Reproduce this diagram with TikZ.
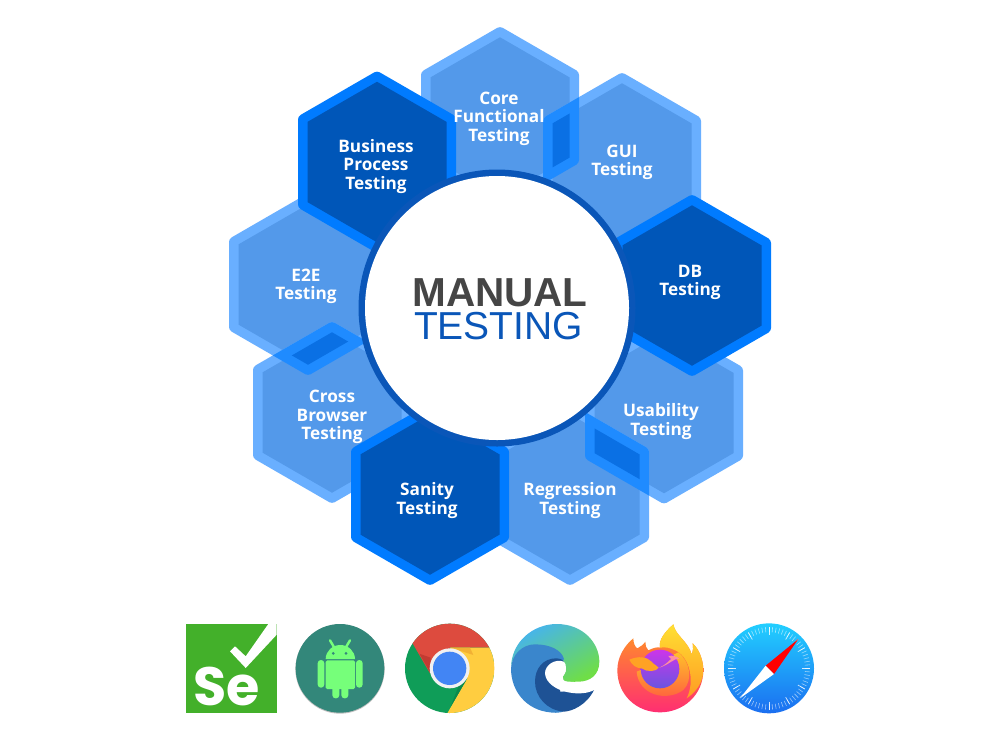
\documentclass[tikz,border=0pt]{standalone}
\usepackage{fontspec}
\setmainfont{Open Sans}
\newfontfamily\logofont{Liberation Sans}
\newfontfamily\sefont{Poppins}
\newcommand\hexpath[3]{({#1},{#2-#3*1.1547}) -- ({#1+#3},{#2-#3*.57735}) -- ({#1+#3},{#2+#3*.57735}) -- ({#1},{#2+#3*1.1547}) -- ({#1-#3},{#2+#3*.57735}) -- ({#1-#3},{#2-#3*.57735}) -- cycle}
\definecolor{lightrim}{HTML}{69AFFF}
\definecolor{lightfill}{HTML}{5399EA}
\definecolor{darkrim}{HTML}{007BFF}
\definecolor{darkfill}{HTML}{0056B8}
\definecolor{ovrim}{HTML}{1F8BFF}
\definecolor{ovfill}{HTML}{0A70E4}
\definecolor{ring}{HTML}{0A56B8}
\definecolor{segreen}{HTML}{43B02A}
\definecolor{teal}{HTML}{33877A}
\definecolor{droid}{HTML}{76FF7A}
\definecolor{crgreen}{HTML}{0F9D58}
\definecolor{crred}{HTML}{DD4B3E}
\definecolor{cryellow}{HTML}{FFCD40}
\definecolor{crredd}{HTML}{C23B32}
\definecolor{cryellowd}{HTML}{F2B134}
\definecolor{crgreend}{HTML}{0C8A4C}
\definecolor{crwhite}{HTML}{F1F1F1}
\definecolor{crblue}{HTML}{4285F4}
\definecolor{edsky}{HTML}{45B3F0}
\definecolor{edlime}{HTML}{6FDE47}
\definecolor{edmid}{HTML}{3A86CC}
\definecolor{ednavy}{HTML}{1E5295}
\definecolor{ffa}{HTML}{FF9A20}
\definecolor{ffb}{HTML}{FF6A2A}
\definecolor{ffc}{HTML}{FF2E72}
\definecolor{ffd}{HTML}{FFE033}
\definecolor{ffe}{HTML}{FF9A22}
\definecolor{fff}{HTML}{CC35EA}
\definecolor{ffg}{HTML}{6A55E0}
\definecolor{ffh}{HTML}{FFA224}
\definecolor{ffi}{HTML}{FFC02A}
\definecolor{ffj}{HTML}{FF5A40}
\definecolor{ffk}{HTML}{FF8FA0}
\definecolor{safa}{HTML}{22CFFF}
\definecolor{safb}{HTML}{1B6EF0}
\definecolor{safred}{HTML}{FF0000}
\newcommand\lighthex[2]{\fill[lightrim,rounded corners=3] \hexpath{#1}{#2}{79}; \fill[lightfill] \hexpath{#1}{#2}{69.5};}
\newcommand\darkhex[2]{\fill[darkrim,rounded corners=3] \hexpath{#1}{#2}{79}; \fill[darkfill] \hexpath{#1}{#2}{69.5};}
\newcommand\overlap[4]{%
 \begin{scope}\clip[rounded corners=3] \hexpath{#1}{#2}{79}; \clip[rounded corners=3] \hexpath{#3}{#4}{79};
 \fill[ovrim] (0,0) rectangle (1000,750); \end{scope}
 \begin{scope}\clip \hexpath{#1}{#2}{69.5}; \clip \hexpath{#3}{#4}{69.5};
 \fill[ovfill] (0,0) rectangle (1000,750); \end{scope}}
\tikzset{hexlabel/.style={text=white,align=center,inner sep=0pt,font=\fontsize{17.2}{18.4}\selectfont\bfseries}}
\begin{document}
\begin{tikzpicture}[x=1pt,y=-1pt]
\useasboundingbox (0,0) rectangle (1000,750);
\fill[white] (0,0) rectangle (1000,750);
% light hexagons
\lighthex{500}{117.5}
\lighthex{622}{163.5}
\lighthex{308}{284.5}
\lighthex{332}{412.5}
\lighthex{664}{413}
\lighthex{570}{494.5}
\overlap{500}{117.5}{622}{163.5}
\overlap{308}{284.5}{332}{412.5}
\overlap{664}{413}{570}{494.5}
% dark hexagons
\darkhex{377}{162}
\darkhex{692}{285.5}
\darkhex{430}{494.5}
% centre
\fill[ring] (497,308) circle (138.5);
\fill[white] (497,308) circle (132);
\node[inner sep=0pt,text=black!73] (manual) at (500,293) {\logofont\fontsize{40.5}{40.5}\selectfont\bfseries MANUAL};
\node[inner sep=0pt,text=ring] (testing) at (498.5,326) {\logofont\fontsize{39}{39}\selectfont TESTING};
% labels
\node[hexlabel] (core) at (499,118.5) {Core\\Functional\\Testing};
\node[hexlabel] (gui) at (622,162.5) {GUI\\Testing};
\node[hexlabel] (business) at (376,166.5) {Business\\Process\\Testing};
\node[hexlabel] (db) at (690,282.5) {DB\\Testing};
\node[hexlabel] (e2e) at (306,286.5) {E2E\\Testing};
\node[hexlabel] (cross) at (332,417) {Cross\\Browser\\Testing};
\node[hexlabel] (usability) at (661,421.5) {Usability\\Testing};
\node[hexlabel] (sanity) at (427,500.5) {Sanity\\Testing};
\node[hexlabel] (regression) at (570,500.5) {Regression\\Testing};
% selenium
\fill[segreen] (186,624) rectangle (276.7,713);
\fill[white] (230,651.3) -- (235,646.3) -- (245.7,656.3) -- (268.3,624) -- (276.7,624) -- (276.7,634.7) -- (245.7,668) -- cycle;
\node[inner sep=0pt,text=white,anchor=base west] (se) at (193,705) {\sefont\fontsize{54}{54}\selectfont\bfseries Se};
% android
\begin{scope}[shift={(180,615)},scale=1/3]
\fill[black!25] (480,162) circle (134);
\fill[teal] (480,160) circle (133);
\draw[droid,line width=2.4pt,line cap=round] (450,76) -- (463,98) (510,76) -- (497,98);
\fill[droid] (437,132) arc[start angle=180,end angle=360,x radius=44,y radius=42] -- cycle;
\fill[droid,rounded corners=1.5pt] (437,136) -- (525,136) -- (525,222) -- (437,222) -- cycle;
\fill[droid,rounded corners=3.2pt] (413,135) rectangle (433,218);
\fill[droid,rounded corners=3.2pt] (528,135) rectangle (548,218);
\fill[droid,rounded corners=3.2pt] (457,205) rectangle (478,250);
\fill[droid,rounded corners=3.2pt] (484,205) rectangle (505,250);
\fill[teal] (460,115) circle (4.5);
\fill[teal] (498,115) circle (4.5);
\end{scope}
% chrome
\begin{scope}[shift={(180,615)},scale=1/3]
\begin{scope}
\clip (809,160) circle (134);
\fill[crgreen] (675,20) rectangle (945,300);
\fill[crred] (750,175) -- (660,20) -- (950,10) -- (950,98) -- (810,98) -- cycle;
\fill[cryellow] (810,98) -- (950,98) -- (950,320) -- (790,316) -- (862,190) -- cycle;
\fill[crredd] (718,116) -- (752,175) -- (752,128) -- cycle;
\fill[cryellowd] (812,98) -- (870,98) -- (880,120) -- cycle;
\fill[crgreend] (862,190) -- (812,275) -- (835,215) -- cycle;
\end{scope}
\fill[crwhite] (809,160) circle (60);
\fill[crblue] (809,160) circle (50);
\end{scope}
% edge
\begin{scope}[shift={(500,615)},scale=1/3]
\shade[left color=edsky,right color=edlime,shading angle=30]
 (33,160) .. controls (33,80) and (100,27) .. (170,27) .. controls (250,27) and (298,85) .. (298,140)
 .. controls (298,180) and (270,200) .. (235,200) .. controls (210,200) and (188,205) .. (188,190)
 .. controls (188,180) and (200,175) .. (198,160) .. controls (195,130) and (150,100) .. (100,100) .. controls (60,100) and (33,130) .. cycle;
\fill[edmid] (33,160) .. controls (36,115) and (70,88) .. (105,88) .. controls (150,88) and (185,105) .. (192,132)
 -- (150,180) .. controls (130,240) and (150,280) .. (190,290) .. controls (175,294) and (160,294) .. (150,292)
 .. controls (80,285) and (33,230) .. cycle;
\fill[ednavy] (105,200) .. controls (105,160) and (130,130) .. (168,130) .. controls (180,130) and (190,135) .. (192,140)
 -- (180,230) -- (282,225) .. controls (260,270) and (215,290) .. (190,290) .. controls (140,285) and (105,245) .. cycle;
\fill[white] (192,140) .. controls (165,130) and (135,150) .. (135,175) .. controls (137,205) and (170,225) .. (205,232)
 .. controls (235,238) and (265,235) .. (282,225) .. controls (262,210) and (240,200) .. (205,200)
 .. controls (190,200) and (186,192) .. (188,185) .. controls (192,178) and (199,170) .. (198,160) .. controls (198,150) and (196,145) .. cycle;
\end{scope}
% firefox
\begin{scope}[shift={(500,615)},scale=1/3]
\shade[top color=ffa,middle color=ffb,bottom color=ffc]
 (352,165) .. controls (352,125) and (375,90) .. (400,70) .. controls (400,85) and (405,95) .. (412,100)
 .. controls (420,95) and (430,90) .. (436,80) .. controls (436,90) and (438,100) .. (445,106)
 .. controls (460,98) and (475,95) .. (480,98) .. controls (475,75) and (495,50) .. (520,28)
 .. controls (525,60) and (565,80) .. (575,118) .. controls (580,105) and (580,95) .. (578,85)
 .. controls (600,105) and (610,140) .. (610,165) .. controls (610,240) and (550,292) .. (480,292)
 .. controls (410,292) and (352,240) .. cycle;
\shade[top color=ffd,bottom color=ffe]
 (480,98) .. controls (475,75) and (495,50) .. (520,28) .. controls (525,60) and (565,80) .. (575,118)
 .. controls (580,105) and (580,95) .. (578,85) .. controls (600,105) and (610,140) .. (610,165)
 .. controls (610,200) and (590,230) .. (560,250) .. controls (585,200) and (570,130) .. (530,108) .. controls (510,98) and (495,95) .. cycle;
\shade[top color=ffi,bottom color=ffj] (410,170) .. controls (415,240) and (500,262) .. (550,225) .. controls (580,195) and (570,140) .. (535,112) -- (480,140) -- cycle;
\shade[top color=fff,bottom color=ffg] (480,162) circle (58);
\fill[ffh] (388,134) .. controls (415,122) and (440,125) .. (455,140)
 .. controls (463,150) and (472,152) .. (476,158) .. controls (470,170) and (440,172) .. (425,160)
 .. controls (410,160) and (395,150) .. cycle;
\fill[ffk] (505,123) .. controls (518,120) and (530,124) .. (538,131) .. controls (520,130) and (510,148) .. (478,158) .. controls (495,150) and (505,140) .. (513,132) .. controls (510,128) and (508,126) .. cycle;
\end{scope}
% safari
\begin{scope}[shift={(500,615)},scale=1/3]
\shade[top color=safa,bottom color=safb] (807,160) circle (135);
\foreach \a in {0,5,...,355}{
 \draw[white,opacity=.55,line width=.6pt] ({807+108*cos(\a)},{160+108*sin(\a)}) -- ({807+124*cos(\a)},{160+124*sin(\a)});
 }
\foreach \a in {0,30,...,330}{
 \draw[white,opacity=.8,line width=.7pt] ({807+100*cos(\a)},{160+100*sin(\a)}) -- ({807+124*cos(\a)},{160+124*sin(\a)});
 }
\fill[safred] (895,72) -- (797,152) -- (822,177) -- cycle;
\fill[white] (720,250) -- (797,152) -- (822,177) -- cycle;
\end{scope}
\end{tikzpicture}
\end{document}
